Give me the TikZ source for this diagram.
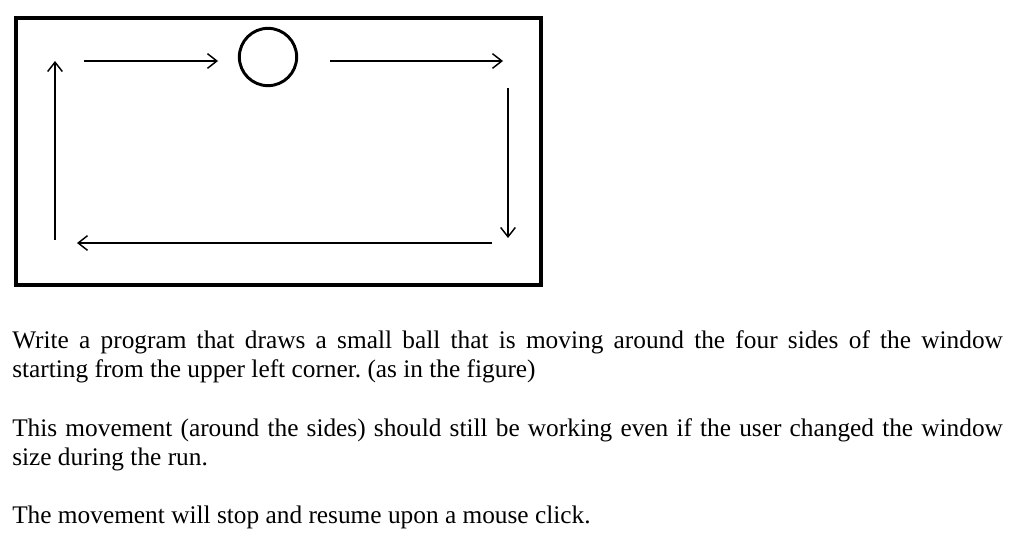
\documentclass[tikz,border=0pt]{standalone}
\usepackage{fontspec}
\setmainfont{Liberation Serif}
\usetikzlibrary{arrows.meta}
\begin{document}
\frenchspacing
\begin{tikzpicture}[x=0.75pt,y=-0.75pt,
  mv/.style={line width=1.1pt,-{Straight Barb[length=7pt,width=11pt]}},
  para/.style={anchor=north west,inner sep=0pt,text width=743pt,align=justify,font=\fontsize{19}{22}\selectfont}]
\useasboundingbox (0,0) rectangle (1024,560);
\draw[line width=2.3pt] (16,18) rectangle (541,285);
\node[draw,circle,line width=2.2pt,minimum size=43pt,inner sep=0pt] (ball) at (268,57) {};
\coordinate (a1) at (84,61); \coordinate (a2) at (218,61);
\coordinate (b1) at (330,61); \coordinate (b2) at (503,61);
\coordinate (c1) at (508,88); \coordinate (c2) at (508,238);
\coordinate (d1) at (492,243); \coordinate (d2) at (77,243);
\coordinate (e1) at (55,240); \coordinate (e2) at (55,61);
\draw[mv] (a1) -- (a2);
\draw[mv] (b1) -- (b2);
\draw[mv] (c1) -- (c2);
\draw[mv] (d1) -- (d2);
\draw[mv] (e1) -- (e2);
\node[para] (p1) at (12,330) {Write a program that draws a small ball that is moving around the four sides of the window\linebreak starting from the upper left corner. (as in the figure)};
\node[para] (p2) at (12,418) {This movement (around the sides) should still be working even if the user changed the window\linebreak size during the run.};
\node[para] (p3) at (12,506) {The movement will stop and resume upon a mouse click.};
\end{tikzpicture}
\end{document}
